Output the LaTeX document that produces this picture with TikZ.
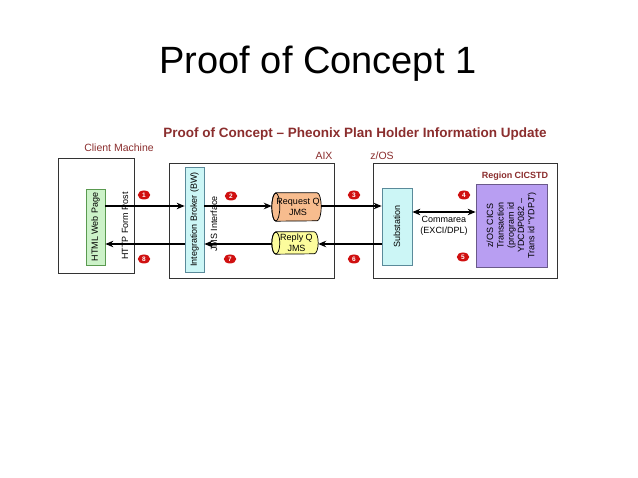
\documentclass[tikz,border=0pt]{standalone}
\usepackage{fontspec}
\setmainfont{Liberation Sans}
\usetikzlibrary{arrows.meta,shapes.geometric,calc,backgrounds}
\pgfdeclarelayer{paper}
\pgfsetlayers{paper,background,main}
\definecolor{maroon}{HTML}{8B2E2E}
\definecolor{grfill}{HTML}{CCF2C8}
\definecolor{grline}{HTML}{5A9A50}
\definecolor{cyfill}{HTML}{CCF6F6}
\definecolor{cyline}{HTML}{5A8A9A}
\definecolor{orfill}{HTML}{F7BC8E}
\definecolor{yefill}{HTML}{FCFC9C}
\definecolor{pufill}{HTML}{B89EF2}
\definecolor{puline}{HTML}{6A5A8A}
\definecolor{badge}{HTML}{D01010}
\tikzset{
  frame/.style={draw=black!80, line width=0.9pt},
  comp/.style={draw, line width=0.7pt, inner sep=0pt},
  comptext/.style={font=\fontsize{9}{10.5}\selectfont},
  arr/.style={line width=1.4pt, -{Stealth[length=8pt,width=6.5pt]}},
  darr/.style={line width=1.4pt, {Stealth[length=8pt,width=6.5pt]}-{Stealth[length=8pt,width=6.5pt]}},
  bdg/.style={ellipse, fill=badge, text=white, inner sep=0pt, minimum width=12.5pt, minimum height=9pt, font=\fontsize{6.5}{6.5}\bfseries\selectfont},
  lbl/.style={text=maroon, font=\fontsize{10.5}{12}\selectfont},
  qbox/.style={rectangle, inner sep=0pt, align=center, font=\fontsize{9}{10.5}\selectfont},
}
\begin{document}
\begin{tikzpicture}[x=1pt,y=-1pt]
\begin{pgfonlayer}{paper}
\fill[white] (0,0) rectangle (638,478);
\end{pgfonlayer}
\useasboundingbox (0,0) rectangle (638,478);
\node[font=\fontsize{38}{40}\selectfont] (title) at (318,64) {Proof of Concept 1};
\node[text=maroon, font=\fontsize{13.5}{15}\bfseries\selectfont] (sub) at (355,134) {Proof of Concept – Pheonix Plan Holder Information Update};
% frames
\node[frame, minimum width=76pt, minimum height=115pt, inner sep=0pt] (client) at (96,215.5) {};
\node[frame, minimum width=165pt, minimum height=115pt, inner sep=0pt] (aix) at (251.5,220.5) {};
\node[frame, minimum width=184pt, minimum height=115pt, inner sep=0pt] (zos) at (465,220.5) {};
\node[lbl] (clientlbl) at (119,148) {Client Machine};
\node[lbl] (aixlbl) at (324,156) {AIX};
\node[lbl] (zoslbl) at (382,156) {z/OS};
\node[text=maroon, font=\fontsize{9}{10}\bfseries\selectfont] (reglbl) at (515,176) {Region CICSTD};
% components
\node[comp, fill=grfill, draw=grline, minimum width=19pt, minimum height=76pt] (html) at (95.5,227) {};
\node[rotate=90, comptext] at (html) {HTML Web Page};
\node[comp, fill=cyfill, draw=cyline, minimum width=19pt, minimum height=105pt] (ib) at (194.5,219.5) {};
\node[rotate=90, comptext] at (ib) {Integration Broker (BW)};
\node[comp, fill=cyfill, draw=cyline, minimum width=30pt, minimum height=77pt] (subst) at (397,226.5) {};
\node[rotate=90, comptext] at (subst) {Substation};
\node[comp, fill=pufill, draw=puline, minimum width=71pt, minimum height=83pt] (cics) at (511.5,225.5) {};
\node[rotate=90, align=center, font=\fontsize{9}{10.3}\selectfont] at (cics) {z/OS CICS\\Transaction\\(program id\\YDCDP082 –\\Trans id “YDPJ”)};
% queues (cylinders)
\node[qbox, minimum width=49pt, minimum height=28pt] (reqq) at (296.5,207) {\hspace*{3pt}Request Q\\\hspace*{3pt}JMS};
\node[qbox, minimum width=46pt, minimum height=22pt] (repq) at (295,243) {\hspace*{3pt}Reply Q\\\hspace*{3pt}JMS};
\begin{scope}[on background layer]
\foreach \q/\c/\h in {reqq/orfill/14,repq/yefill/11}{
  \filldraw[fill=\c, line width=0.7pt]
    ($(\q.north west)+(4,0)$) -- ($(\q.north east)+(-4,0)$)
    arc[start angle=-90, end angle=90, x radius=4, y radius=\h]
    -- ($(\q.south west)+(4,0)$)
    arc[start angle=90, end angle=270, x radius=4, y radius=\h] -- cycle;
  \draw[line width=0.7pt] ($(\q.west)+(4,0)$) ellipse[x radius=4, y radius=\h];
}
\end{scope}
% rows
\coordinate (top) at (0,206);
\coordinate (bot) at (0,244);
\coordinate (cm) at (0,212);
\draw[arr] (html.east |- top) -- (ib.west |- top);
\draw[arr] (ib.east |- top) -- (reqq.west |- top);
\draw[arr] (reqq.east |- top) -- (subst.west |- top);
\draw[darr] (subst.east |- cm) -- (cics.west |- cm);
\draw[arr] (subst.west |- bot) -- (repq.east |- bot);
\draw[arr] (repq.west |- bot) -- (ib.east |- bot);
\draw[arr] (ib.west |- bot) -- (html.east |- bot);
% labels
\node[rotate=90, comptext] (http) at (125,226) {HTTP Form Post};
\node[rotate=90, comptext] (jms) at (214,224) {JMS Interface};
\node[align=center, font=\fontsize{9}{11.5}\selectfont] (comm) at (444,226) {Commarea\\(EXCI/DPL)};
% badges
\node[bdg] (b1) at (144,195) {1};
\node[bdg] (b2) at (231,196) {2};
\node[bdg] (b3) at (354,195) {3};
\node[bdg] (b4) at (464,195) {4};
\node[bdg] (b5) at (463,257) {5};
\node[bdg] (b6) at (354,259) {6};
\node[bdg] (b7) at (230,259) {7};
\node[bdg] (b8) at (144,259) {8};
\end{tikzpicture}
\end{document}
